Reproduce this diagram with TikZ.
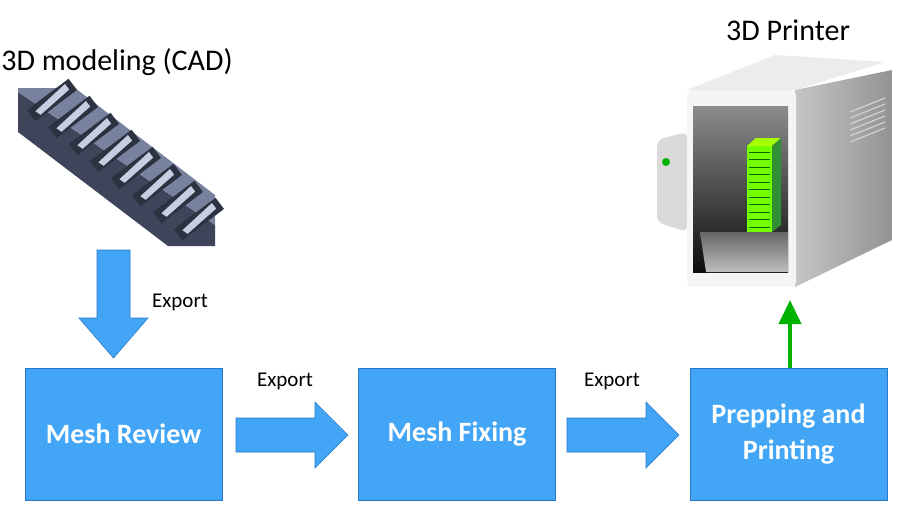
\documentclass[tikz,border=0pt]{standalone}
\usepackage{fontspec}
\setmainfont{Carlito}
\usetikzlibrary{arrows.meta}
\definecolor{boxblue}{RGB}{66,165,245}
\definecolor{boxedge}{RGB}{40,120,200}
\definecolor{rackface}{RGB}{120,130,158}
\definecolor{rackside}{RGB}{62,68,90}
\definecolor{rackslot}{RGB}{45,50,65}
\definecolor{rackhi}{RGB}{200,205,225}
\tikzset{
 stepbox/.style={draw=boxedge,fill=boxblue,line width=1pt,minimum width=197pt,minimum height=132pt,inner sep=0pt,text=white,font=\fontsize{28}{36}\selectfont\bfseries,align=center},
 barrow/.style={fill=boxblue,draw=boxedge,line width=0.6pt},
 lbl/.style={font=\fontsize{21}{24}\selectfont},
 ttl/.style={font=\fontsize{30}{34}\selectfont},
}
\begin{document}
\begin{tikzpicture}[x=1pt,y=-1pt]
\useasboundingbox[fill=white] (0,0) rectangle (904,509);
% titles
\node[ttl] (t1) at (117,62) {3D modeling (CAD)};
\node[ttl] (t2) at (788,30) {3D Printer};
% CAD rack
\fill[rackside] (18,92) -- (18,132) -- (168,246) -- (215,246) -- (215,225) -- cycle;
\fill[rackface] (18,88) -- (75,88) -- (215,195) -- (215,225) -- (18,92) -- cycle;
\foreach \i in {0,...,7}{
 \begin{scope}[shift={({52+\i*21},{100+\i*17})},rotate=37]
  \fill[rackslot] (-26,-7) rectangle (26,7);
  \fill[rackhi] (-20,-1) -- (20,-5) -- (20,2) -- (-18,5) -- cycle;
 \end{scope}}
% printer
\shade[left color=gray!45,right color=gray!85] (795,90) -- (892,70) -- (892,240) -- (795,287) -- cycle;
\fill[gray!15] (687,90) -- (775,55) -- (885,62) -- (795,90) -- cycle;
\fill[gray!30,rounded corners=6pt] (657,140) -- (687,132) -- (687,232) -- (657,222) -- cycle;
\fill[green!70!black] (666,162) circle (4);
\fill[gray!8,rounded corners=5pt] (687,90) rectangle (796,287);
\shade[top color=black!45,bottom color=black!95] (693,106) rectangle (788,272);
\shade[top color=black!60,bottom color=black!25] (700,232) -- (788,232) -- (788,272) -- (706,272) -- cycle;
\fill[green!55!yellow] (747,146) rectangle (772,232);
\fill[green!35!yellow] (747,146) -- (756,138) -- (781,138) -- (772,146) -- cycle;
\fill[green!45!black!80] (772,146) -- (781,138) -- (781,225) -- (772,232) -- cycle;
\foreach \k in {0,...,10} \draw[green!40!black] (749,{152+\k*7.5}) -- (770,{152+\k*7.5});
\foreach \k in {0,...,5} \draw[gray!35,line width=1.2pt] (850,{112+\k*6}) -- (885,{98+\k*6});
% boxes
\node[stepbox] (b1) at (123.5,434) {Mesh Review};
\node[stepbox] (b2) at (457,434) {Mesh Fixing};
\node[stepbox] (b3) at (788.5,434) {Prepping and\\Printing};
% arrows
\fill[barrow] (97,250) -- (130,250) -- (130,318) -- (148,318) -- (113.5,358) -- (79,318) -- (97,318) -- cycle;
\node[lbl] (e1) at (180,302) {Export};
\fill[barrow] (236,418) -- (315,418) -- (315,402) -- (348,435) -- (315,468) -- (315,452) -- (236,452) -- cycle;
\node[lbl] (e2) at (285,381) {Export};
\fill[barrow] (567,418) -- (646,418) -- (646,402) -- (679,435) -- (646,468) -- (646,452) -- (567,452) -- cycle;
\node[lbl] (e3) at (612,381) {Export};
\coordinate (pr) at (790,300);
\draw[green!70!black,line width=4pt,-{Triangle[width=22pt,length=24pt]}] (b3.north -| pr) -- (pr);
\end{tikzpicture}
\end{document}
